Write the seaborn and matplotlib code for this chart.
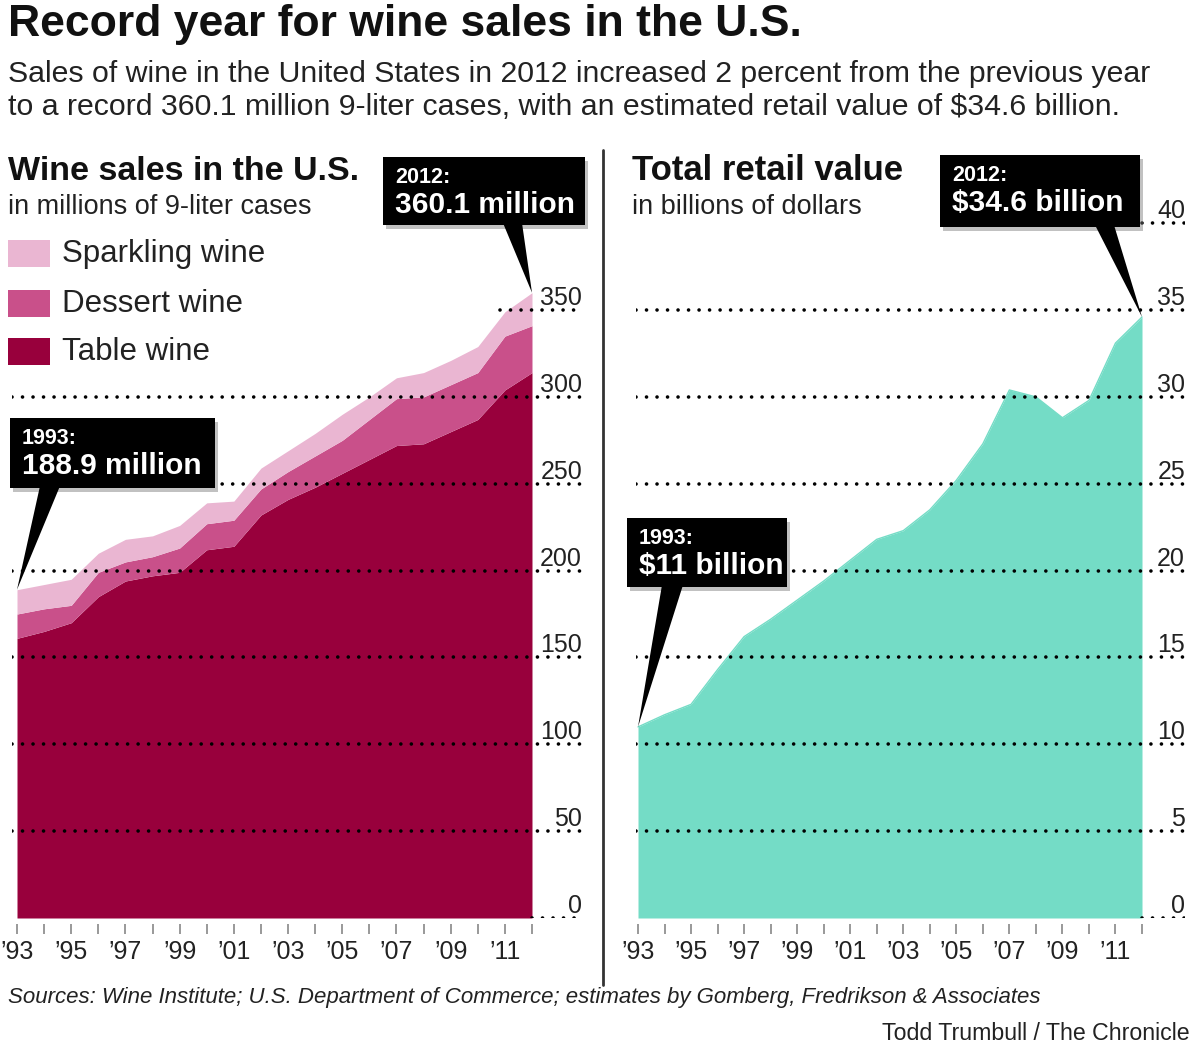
import numpy as np
import matplotlib
matplotlib.use("Agg")
import matplotlib.pyplot as plt
import seaborn as sns
from matplotlib.patches import Rectangle, Polygon
from matplotlib import font_manager

# data
years = list(range(1993, 2013))
table_wine = [161, 165, 170, 185, 194, 197, 199, 212, 214, 232,
              241, 248, 256, 264, 272, 273, 280, 287, 304, 314]
dessert_wine = [14, 13, 10, 14, 11, 11, 14, 15, 15, 15,
                16, 18, 19, 23, 27, 27, 27, 27, 31, 27]
sparkling_wine = [14, 14, 15, 11, 13, 12, 13, 12, 11, 12,
                  12, 13, 15, 13, 12, 14, 14, 15, 14, 19]
retail_value = [11.0, 11.7, 12.3, 14.3, 16.2, 17.2, 18.3, 19.4, 20.6, 21.8,
                22.3, 23.5, 25.2, 27.3, 30.4, 30.0, 28.8, 29.8, 33.1, 34.6]
left_ticks = [0, 50, 100, 150, 200, 250, 300, 350]
right_ticks = [0, 5, 10, 15, 20, 25, 30, 35, 40]
year_labels = ["\u2019" + str(y)[2:] if y % 2 == 1 else "" for y in years]

sns.set_theme(style="white")
installed = {f.name for f in font_manager.fontManager.ttflist}
SANS = "Liberation Sans" if "Liberation Sans" in installed else "DejaVu Sans"
NARROW = "Liberation Sans Narrow" if "Liberation Sans Narrow" in installed else SANS
plt.rcParams["font.family"] = [SANS, "DejaVu Sans"]

C_TABLE = "#98003c"
C_DESSERT = "#c9508a"
C_SPARK = "#eab6d2"
C_TEAL = "#74dcc6"

W, H = 1200, 1046
fig = plt.figure(figsize=(12, 10.46), dpi=100)
fig.patch.set_facecolor("white")


def fx(x):
    return x / W


def fy(y):
    return 1 - y / H


# axes placed in pixel layout (bottom at y=918)
ax1 = fig.add_axes([fx(12), fy(918), (582 - 12) / W, (918 - 150) / H])
ax2 = fig.add_axes([fx(636), fy(918), (1185 - 636) / W, (918 - 150) / H])
ax1.set_xlim(1993 - 5 / 27.1, 2012 + 50 / 27.1)
ax1.set_ylim(0, 768 / 1.737)
ax2.set_xlim(1993 - 2 / 26.53, 2012 + 43 / 26.53)
ax2.set_ylim(0, 76.8 / 1.737)

ax1.stackplot(years, table_wine, dessert_wine, sparkling_wine,
              colors=[C_TABLE, C_DESSERT, C_SPARK], linewidth=0, zorder=2)
ax2.fill_between(years, retail_value, color=C_TEAL, lw=0, zorder=2)
sns.lineplot(x=years, y=retail_value, ax=ax2, color=C_TEAL, lw=1, zorder=2)

dot = dict(color="black", linestyle=(0, (0.01, 2.9)), lw=2.6,
           dash_capstyle="round", zorder=3)


def end_frac(ax):
    lo, hi = ax.get_xlim()
    return (2012 - lo) / (hi - lo)


for v in left_ticks:
    xmin = 0
    if v == 0:
        xmin = end_frac(ax1)
    elif v == 350:
        xmin = 0.856
    ax1.axhline(v, xmin=xmin, **dot)
    ax1.text(ax1.get_xlim()[1], v, str(v), ha="right", va="bottom",
             fontsize=18, family=NARROW, color="#222")

for v in right_ticks:
    xmin = 0
    if v in (0, 40):
        xmin = end_frac(ax2)
    ax2.axhline(v, xmin=xmin, **dot)
    ax2.text(ax2.get_xlim()[1], v, str(v), ha="right", va="bottom",
             fontsize=18, family=NARROW, color="#222")

for ax in (ax1, ax2):
    ax.set_yticks([])
    ax.set_xticks(years)
    ax.tick_params(axis="x", bottom=True, direction="out", length=7, width=1.2,
                   color="#888", pad=5, labelsize=18, labelcolor="#222")
    ax.set_xticklabels(year_labels, fontsize=18, family=NARROW, color="#222")
    for s in ax.spines.values():
        s.set_visible(False)
    ax.spines["bottom"].set_position(("outward", 4))
    ax.set_facecolor("none")
    ax.grid(False)

# divider
fig.add_artist(plt.Line2D([fx(603), fx(603)], [fy(150), fy(985)],
                          color="#333", lw=2, transform=fig.transFigure))

# titles
fig.text(fx(8), fy(36), "Record year for wine sales in the U.S.", fontsize=32,
         weight="bold", va="baseline", color="#111")
fig.text(fx(8), fy(82), "Sales of wine in the United States in 2012 increased 2 percent from the previous year",
         fontsize=21.8, va="baseline", color="#222")
fig.text(fx(8), fy(115), "to a record 360.1 million 9-liter cases, with an estimated retail value of $34.6 billion.",
         fontsize=21.8, va="baseline", color="#222")
fig.text(fx(8), fy(180), "Wine sales in the U.S.", fontsize=24.5, weight="bold",
         va="baseline", color="#111")
fig.text(fx(8), fy(214), "in millions of 9-liter cases", fontsize=19.5,
         va="baseline", color="#222")
fig.text(fx(632), fy(180), "Total retail value", fontsize=25, weight="bold",
         va="baseline", color="#111")
fig.text(fx(632), fy(214), "in billions of dollars", fontsize=19.5,
         va="baseline", color="#222")

# legend
for (top, col, lab) in [(240, C_SPARK, "Sparkling wine"),
                        (290, C_DESSERT, "Dessert wine"),
                        (338, C_TABLE, "Table wine")]:
    fig.add_artist(Rectangle((fx(8), fy(top + 27)), 42 / W, 27 / H, fc=col,
                             ec="none", transform=fig.transFigure))
    fig.text(fx(62), fy(top + 13.5), lab, fontsize=22.5, va="center", color="#222")


def callout(ax, x, y, box, base, small, big):
    x0, y0, x1, y1 = box
    fig.add_artist(Rectangle((fx(x0 + 3), fy(y1 + 4)), (x1 - x0) / W, (y1 - y0) / H,
                             fc="#777", ec="none", alpha=0.45,
                             transform=fig.transFigure, zorder=4))
    fig.add_artist(Rectangle((fx(x0), fy(y1)), (x1 - x0) / W, (y1 - y0) / H,
                             fc="black", ec="none", transform=fig.transFigure, zorder=5))
    tip = fig.transFigure.inverted().transform(ax.transData.transform((x, y)))
    fig.add_artist(Polygon([(fx(base[0]), fy(y1 - 2)), (fx(base[1]), fy(y1 - 2)), tuple(tip)],
                           closed=True, fc="black", ec="none",
                           transform=fig.transFigure, zorder=5))
    fig.text(fx(x0 + 12), fy(y0 + 26), small, fontsize=15.5, weight="bold",
             color="white", va="baseline", zorder=6)
    fig.text(fx(x0 + 12), fy(y0 + 56), big, fontsize=21.5, weight="bold",
             color="white", va="baseline", zorder=6)


total_2012 = table_wine[-1] + dessert_wine[-1] + sparkling_wine[-1]
total_1993 = table_wine[0] + dessert_wine[0] + sparkling_wine[0]
callout(ax1, years[-1], total_2012, (383, 157, 585, 225), (503, 522),
        "2012:", "360.1 million")
callout(ax1, years[0], total_1993, (10, 418, 215, 488), (40, 60),
        "1993:", "188.9 million")
callout(ax2, years[0], retail_value[0], (627, 518, 787, 587), (662, 683),
        "1993:", "$11 billion")
callout(ax2, years[-1], retail_value[-1], (940, 155, 1140, 227), (1095, 1114),
        "2012:", "$34.6 billion")

fig.text(fx(8), fy(1003),
         "Sources: Wine Institute; U.S. Department of Commerce; estimates by Gomberg, Fredrikson & Associates",
         fontsize=16, style="italic", va="baseline", color="#222")
fig.text(fx(1190), fy(1040), "Todd Trumbull / The Chronicle", fontsize=16.7,
         ha="right", va="baseline", color="#222")

fig.savefig("out.png", dpi=100)
